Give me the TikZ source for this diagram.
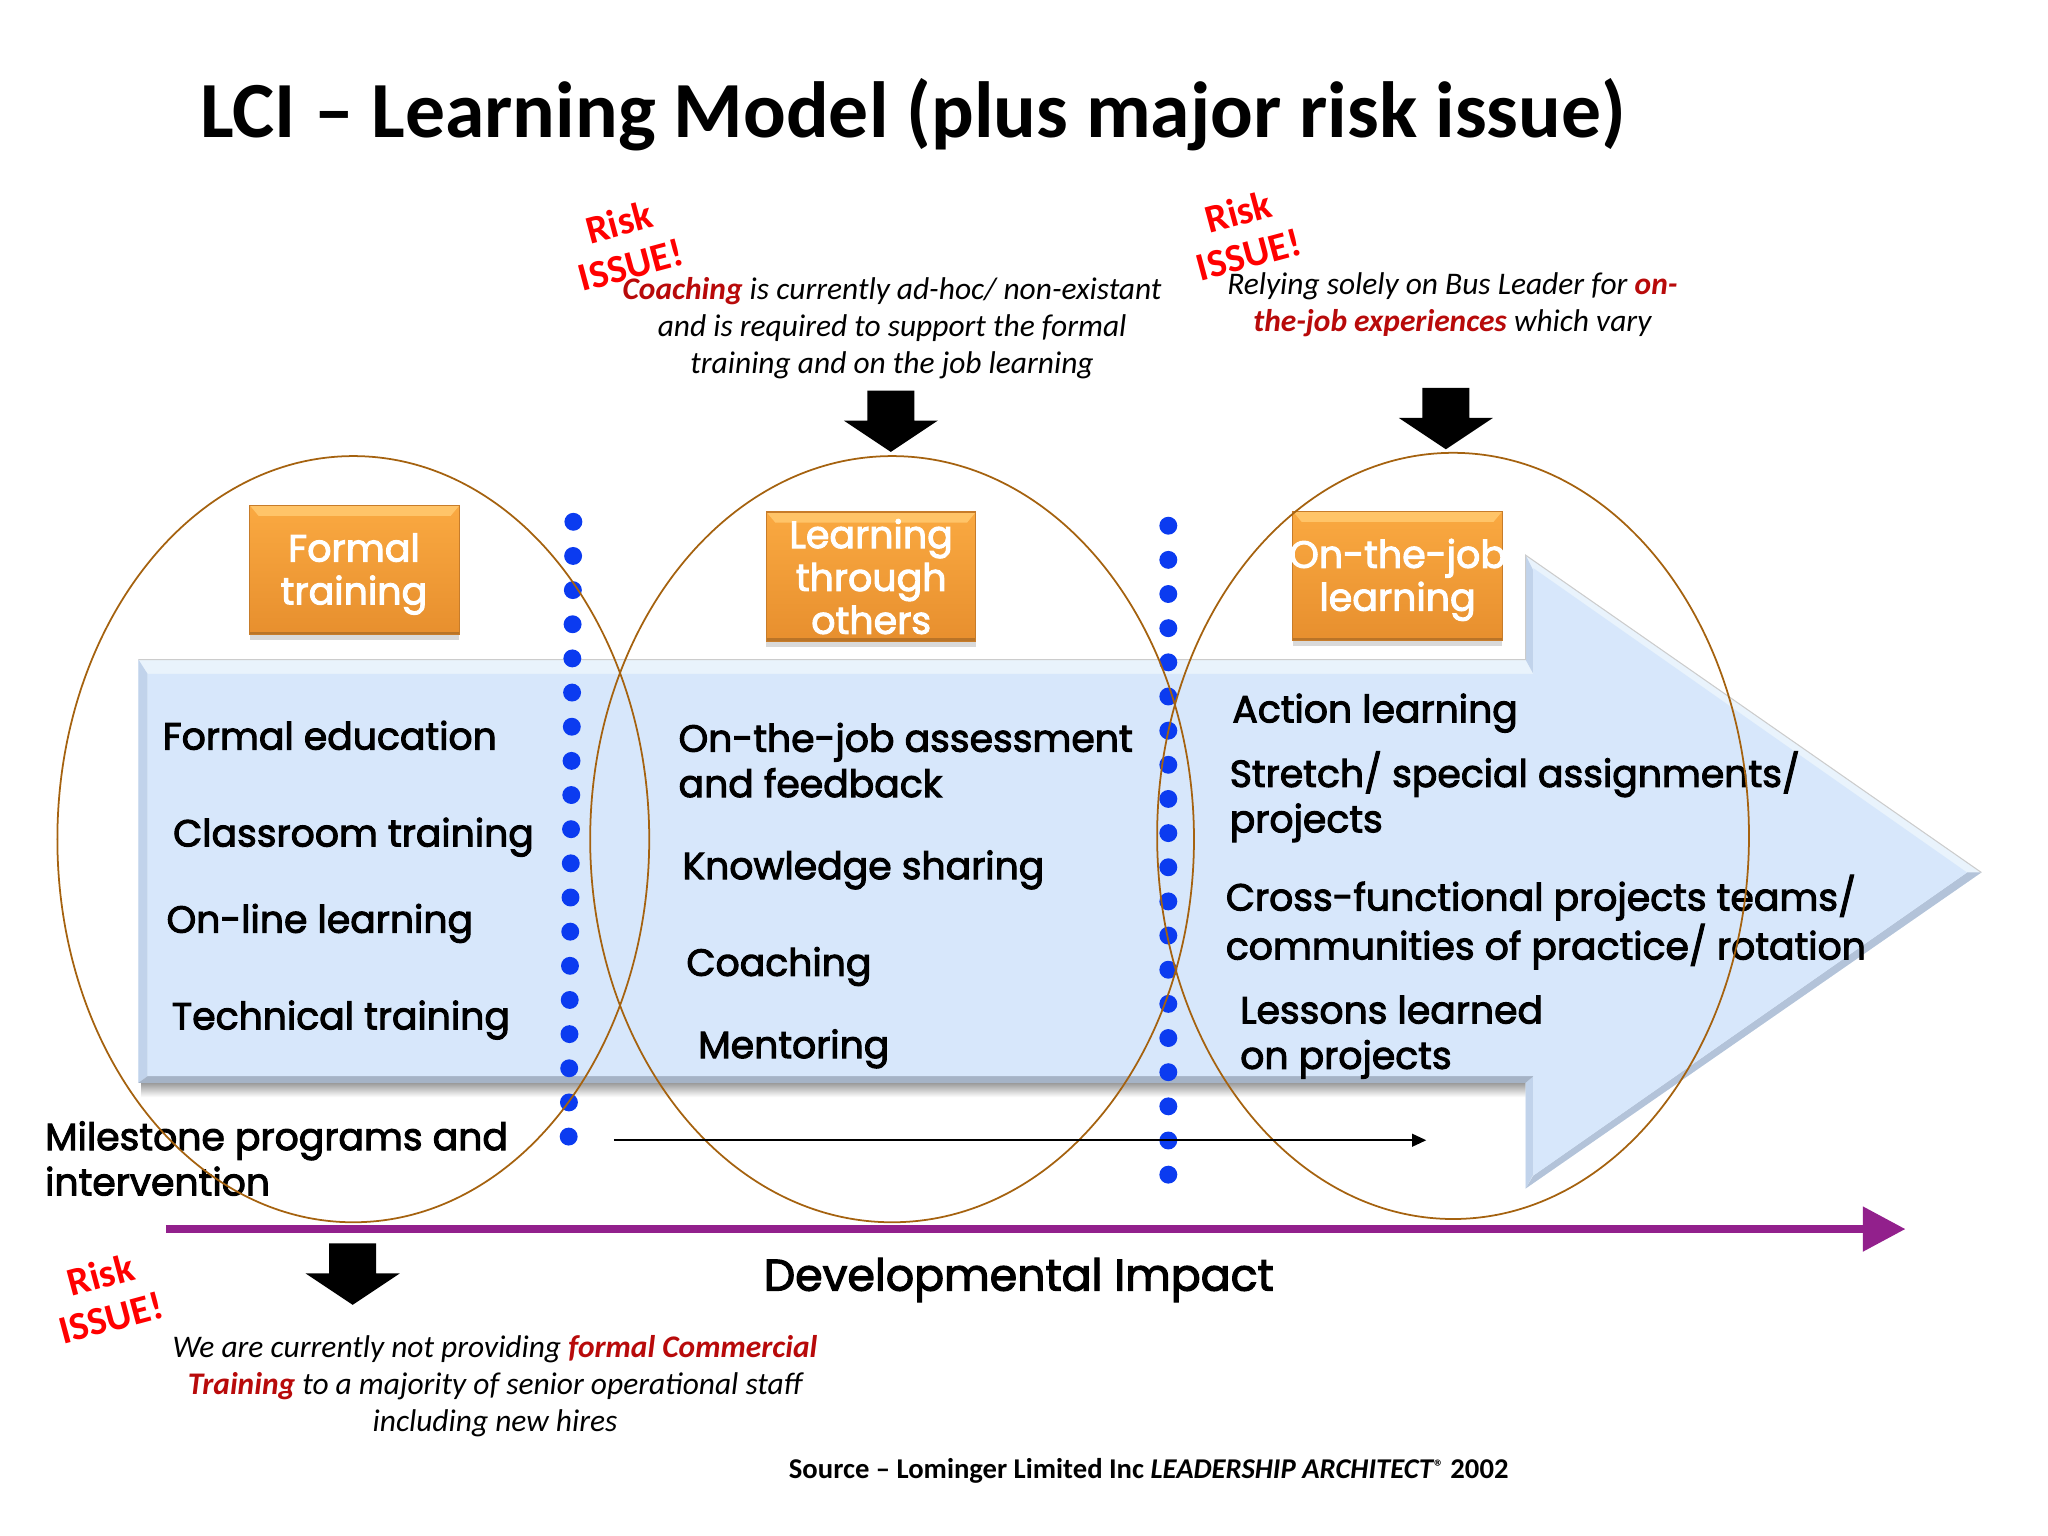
\documentclass[tikz,border=0pt]{standalone}
\usepackage{fontspec}
\setmainfont{Carlito}
\newfontfamily\gothic[FakeBold=2.6]{Poppins}
\usetikzlibrary{shadows,shapes.geometric,arrows.meta}
\definecolor{ringbrown}{HTML}{A5620F}
\definecolor{dotblue}{HTML}{0B3BF0}
\definecolor{darkred}{HTML}{B80A0A}
\definecolor{impurple}{HTML}{92208C}
\definecolor{bandlight}{HTML}{E9F3FC}
\definecolor{bandblue}{HTML}{D7E7FB}
\definecolor{banddark}{HTML}{A5B3C6}
\definecolor{bandmid}{HTML}{C1D3EB}
\definecolor{bandedge}{HTML}{B3C3D9}
\definecolor{boxtop}{HTML}{FAA941}
\definecolor{boxbottom}{HTML}{E78F2E}
\definecolor{boxlight}{HTML}{FFC468}
\definecolor{boxdark}{HTML}{B97428}
\tikzset{
  bodytext/.style={anchor=west, align=left, inner sep=0pt, font=\gothic\fontsize{10.75}{12.9}\selectfont},
  boxtext/.style={align=center, text=white, font=\gothic\fontsize{10.8}{12.2}\selectfont},
  orangebox/.style={minimum width=59.6pt, minimum height=36.8pt, inner sep=0pt, draw=boxdark!70!boxbottom, line width=0.3pt,
    top color=boxtop, bottom color=boxbottom, drop shadow={opacity=0.3,shadow xshift=0pt,shadow yshift=-1.6pt},
    path picture={
      \fill[boxlight] (path picture bounding box.north west) -- (path picture bounding box.north east) -- ([shift={(-2.5pt,-3pt)}]path picture bounding box.north east) -- ([shift={(2.5pt,-3pt)}]path picture bounding box.north west) -- cycle;
      \fill[boxdark] (path picture bounding box.south west) rectangle ([yshift=0.9pt]path picture bounding box.south east);
    }},
  ring/.style={draw=ringbrown, line width=0.5pt, ellipse, inner sep=0pt, minimum width=168.4pt, minimum height=218pt},
  riskmark/.style={rotate=15, text=red, font=\bfseries\fontsize{11.3}{13}\selectfont},
  remark/.style={align=center, font=\itshape\fontsize{8.95}{10.55}\selectfont},
  bluedot/.style={circle, fill=dotblue, inner sep=0pt, minimum size=5.1pt},
  bigarrow/.pic={\fill[black] (-18,0) -- (18,0) -- (18,23) -- (36,23) -- (0,47) -- (-36,23) -- (-18,23) -- cycle;}
}
\newcommand{\hl}[1]{\textcolor{darkred}{\textbf{#1}}}
\begin{document}
\begin{tikzpicture}[x=0.01306cm,y=-0.01306cm]
 \useasboundingbox (0,0) rectangle (1568,1176);
 % big arrow
 \shade[top color=black!40, bottom color=white] (108,829) rectangle (1168,840);
 \fill[bandlight] (106,505) -- (1168,505) -- (1168,425) -- (1517,668) -- (1168,910) -- (1168,829) -- (106,829) -- cycle;
 \fill[bandmid] (106,505) -- (113,516) -- (113,824) -- (106,829) -- cycle;
 \fill[bandmid] (1168,425) -- (1174,437) -- (1174,516) -- (1168,505) -- cycle;
 \fill[bandmid] (1168,829) -- (1174,824) -- (1174,899) -- (1168,910) -- cycle;
 \fill[banddark] (106,829) -- (113,824) -- (1174,824) -- (1168,829) -- cycle;
 \fill[bandedge] (1168,910) -- (1174,900) -- (1506,668) -- (1517,668) -- cycle;
 \fill[bandblue] (113,516) -- (1174,516) -- (1174,435) -- (1506,668) -- (1174,900) -- (1174,824) -- (113,824) -- cycle;
 \draw[black!20, line width=0.3pt] (106,505) -- (1168,505) -- (1168,425) -- (1517,668);
 % orange boxes
 \node[orangebox] (formalbox) at (271.5,436.5) {};
 \node[orangebox] (otherbox) at (667,441.5) {};
 \node[orangebox] (jobbox) at (1070,441) {};
 \node[boxtext] (formallabel) at (271,439.5) {Formal\\training};
 \node[boxtext] (otherlabel) at (667,441.5) {Learning\\through\\others};
 \node[boxtext] (joblabel) at (1070,444) {On-the-job\\learning};
 % dots
 \foreach \i in {0,...,18}
   \node[bluedot] (lefdot\i) at ({439-\i*0.2},{399.5+\i*26.15}) {};
 \foreach \i in {0,...,19}
   \node[bluedot] (rigdot\i) at (894.5,{402.5+\i*26.15}) {};
 % column texts
 \node[bodytext] (edu) at (124,563) {Formal education};
 \node[bodytext] (room) at (132,641) {Classroom training};
 \node[bodytext] (online) at (127,707) {On-line learning};
 \node[bodytext] (tech) at (131,781) {Technical training};
 \node[bodytext] (assess) at (519,582) {On-the-job assessment\\and feedback};
 \node[bodytext] (share) at (522,666) {Knowledge sharing};
 \node[bodytext] (coach) at (525,740) {Coaching};
 \node[bodytext] (mentor) at (534,803) {Mentoring};
 \node[bodytext] (action) at (943,546) {Action learning};
 \node[bodytext] (stretch) at (941,610) {Stretch/ special assignments/\\projects};
 \node[bodytext] (cross) at (938,706) {Cross-functional projects teams/\\communities of practice/ rotation};
 \node[bodytext] (lessons) at (949,794) {Lessons learned\\on projects};
 \node[bodytext] (mile) at (34,887) {Milestone programs and\\intervention};
 % rings
 \node[ring] (formalring) at (270.5,642.5) {};
 \node[ring, minimum width=171.8pt] (otherring) at (683,642.5) {};
 \node[ring] (jobring) at (1112.5,640) {};
 % timeline
 \coordinate (thinstart) at (470,873);
 \coordinate (thinend) at (1092,873);
 \draw[-{Triangle[length=4pt,width=3.6pt]}, line width=0.5pt] (thinstart) -- (thinend);
 \coordinate (impstart) at (127,941);
 \coordinate (impend) at (1459,941);
 \draw[-{Triangle[length=12.2pt,width=12.2pt]}, impurple, line width=2.5pt] (impstart) -- (impend);
 \node[font=\gothic\fontsize{12.6}{15}\selectfont] (impact) at (780,980) {Developmental Impact};
 % black arrows
 \pic at (682,299) {bigarrow};
 \pic at (1107,297) {bigarrow};
 \pic at (270,952) {bigarrow};
 % risk notes
 \node[riskmark] (riskone) at (474,170) {Risk};
 \node[riskmark] (issueone) at (483,203) {ISSUE!};
 \node[riskmark] (risktwo) at (948,162) {Risk};
 \node[riskmark] (issuetwo) at (956,195) {ISSUE!};
 \node[riskmark] (riskthree) at (77,976) {Risk};
 \node[riskmark] (issuethree) at (85,1009) {ISSUE!};
 \node[remark] (coachnote) at (683,251) {\hl{Coaching} is currently ad-hoc/ non-existant\\and is required to support the formal\\training and on the job learning};
 \node[remark] (busnote) at (1112,233) {Relying solely on Bus Leader for \hl{on-}\\\hl{the-job experiences} which vary};
 \node[remark] (hirenote) at (379,1061) {We are currently not providing \hl{formal Commercial}\\\hl{Training} to a majority of senior operational staff\\including new hires};
 % title and source
 \node[font=\bfseries\fontsize{22.65}{26}\selectfont] (title) at (699,88) {LCI – Learning Model (plus major risk issue)};
 \node[font=\bfseries\fontsize{8.15}{10}\selectfont] (source) at (879.5,1126) {Source – Lominger Limited Inc \textit{LEADERSHIP ARCHITECT}\raisebox{1.5pt}{\fontsize{5.5}{6}\selectfont ®} 2002};
\end{tikzpicture}
\end{document}
